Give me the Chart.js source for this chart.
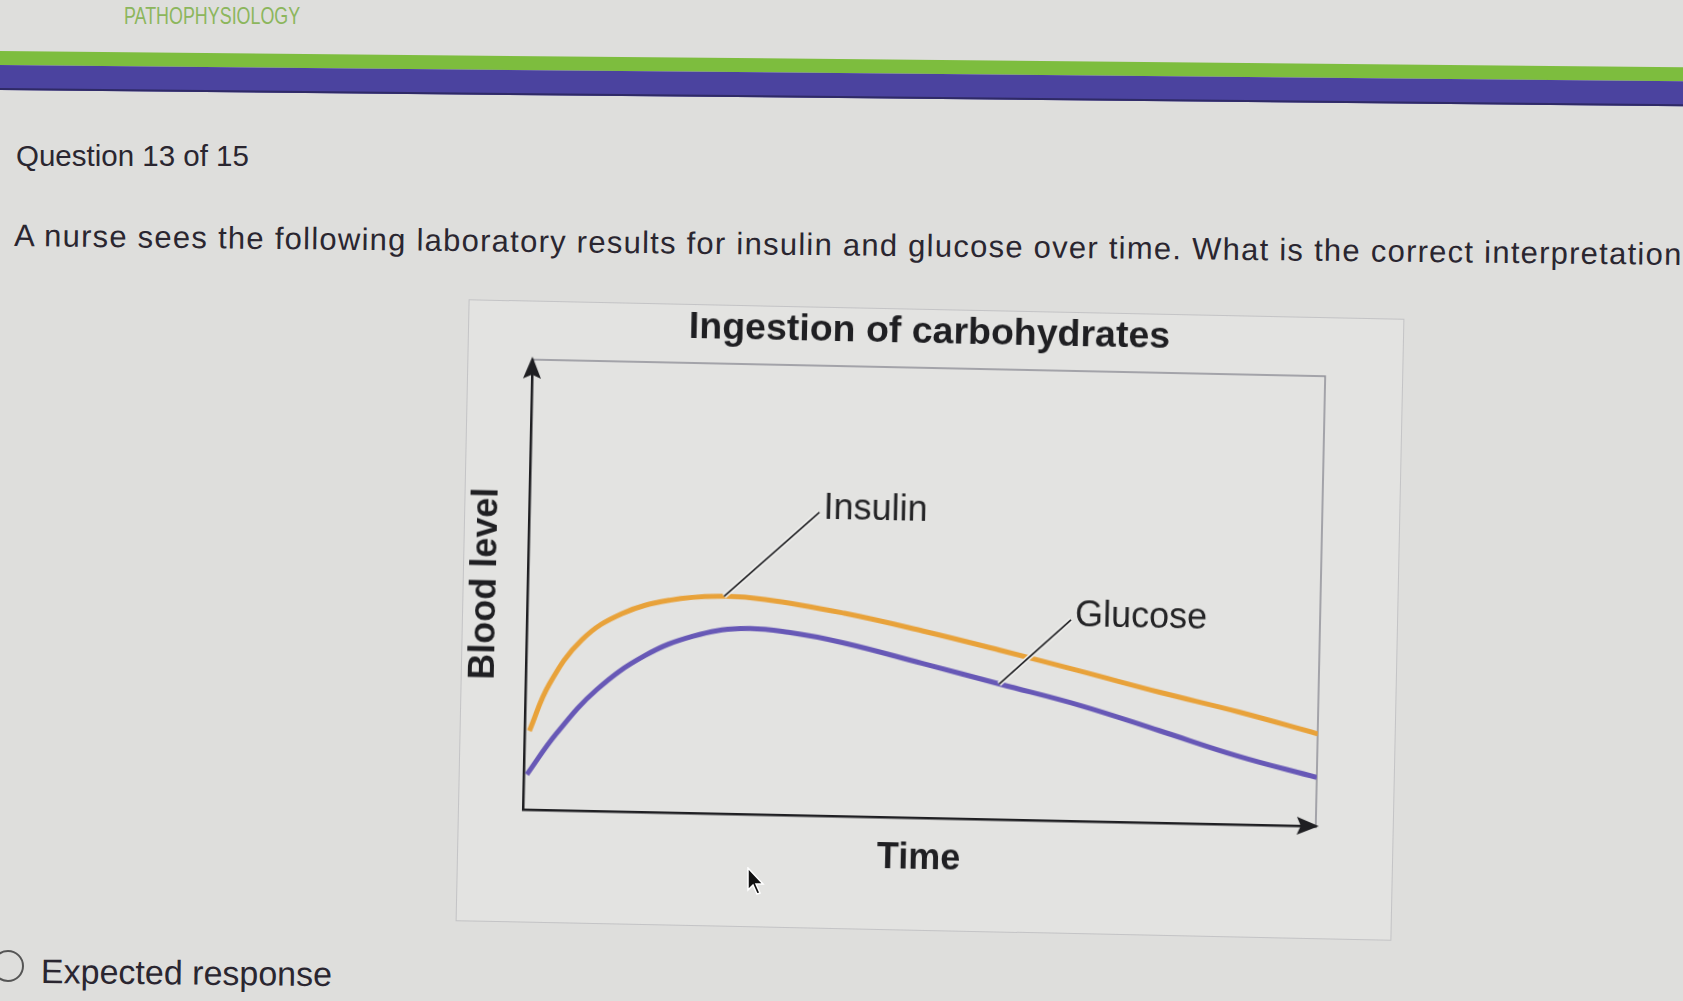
<!DOCTYPE html>
<html>
<head>
<meta charset="utf-8">
<script src="https://cdn.jsdelivr.net/npm/chart.js@4.4.1/dist/chart.umd.min.js"></script>
<style>
  html, body { margin: 0; padding: 0; }
  body {
    width: 1683px; height: 1001px; overflow: hidden; position: relative;
    background: #dededc;
    font-family: "Liberation Sans", Arial, sans-serif;
    color: #2a2630;
  }
  .abs { position: absolute; white-space: nowrap; }
  #subject { left: 124px; top: 4px; font-size: 24px; line-height: 24px; color: #8cb65c;
    transform: scaleX(0.745); transform-origin: left top; }
  #bars { left: 0; top: 51px; width: 1720px; transform: rotate(0.55deg); transform-origin: left top; }
  #bars .green { height: 14px; background: #7dbd3e; }
  #bars .blue { height: 23px; background: #4b439f; border-bottom: 2px solid #2f2a66; }
  #qnum { left: 16px; top: 141px; font-size: 29.5px; line-height: 30px; }
  #qtext { left: 14px; top: 220px; font-size: 31px; line-height: 31px; letter-spacing: 1.25px;
    transform: rotate(0.65deg); transform-origin: left center; }
  #answer { left: 41px; top: 954px; font-size: 34px; line-height: 34px; transform: rotate(0.6deg); transform-origin: left center; }
  #radio { left: -8px; top: 950px; width: 28px; height: 28px; border: 2px solid #555; border-radius: 50%; }
  #chartBox {
    position: absolute; left: 463px; top: 310px; width: 934px; height: 620px;
    outline: 1.5px solid #c4c4c6; background: #e3e3e1;
    transform: rotate(1.2deg);
  }
  #chartBox canvas { position: absolute; left: 0; top: 0; }
  #cursor { left: 747px; top: 867px; }
</style>
</head>
<body>
<div class="abs" id="subject">PATHOPHYSIOLOGY</div>
<div class="abs" id="bars"><div class="green"></div><div class="blue"></div></div>
<div class="abs" id="qnum">Question 13 of 15</div>
<div class="abs" id="qtext">A nurse sees the following laboratory results for insulin and glucose over time. What is the correct interpretation?</div>

<div id="chartBox"><canvas id="chart" width="934" height="620"></canvas></div>

<div class="abs" id="radio"></div>
<div class="abs" id="answer">Expected response</div>
<svg class="abs" id="cursor" width="20" height="30" viewBox="0 0 20 30">
  <path d="M1,1 L1,23 L6,18 L10,27 L13,26 L9,17 L16,17 Z" fill="#111" stroke="#fff" stroke-width="1.5"/>
</svg>

<script>
// curve data (time and blood level, 0-100 on both axes)
const insulinTime = [0.6, 3, 7, 12, 18, 24, 30, 40, 50, 60, 70, 80, 90, 100];
const insulinLevel = [17.5, 28, 38, 44, 47.2, 48.3, 47.8, 45.1, 41.5, 37.5, 33.3, 29.0, 25.0, 20.5];
const glucoseTime = [0.4, 4, 9, 15, 21, 27, 33, 40, 50, 60, 70, 80, 90, 100];
const glucoseLevel = [7.8, 17, 27, 34.8, 39.3, 41.2, 40.6, 38.5, 34.3, 30.0, 25.7, 20.5, 15.2, 10.8];

// callout labels: name, point on curve, end of leader line
const calloutNames = ["Insulin", "Glucose"];
const calloutFrom = [[24.8, 48.3], [59.7, 30.1]];
const calloutTo = [[36.6, 67.4], [68.6, 44.7]];

const FONT = '"Liberation Sans", Arial, sans-serif';
const INK = "#1f1f22";

function points(xs, ys) {
  return xs.map((x, i) => ({ x, y: ys[i] }));
}

// plot frame, arrowheads, callouts
const plotExtras = {
  id: "plotExtras",
  beforeDatasetsDraw(chart) {
    const { ctx, chartArea: a } = chart;
    ctx.save();
    ctx.strokeStyle = "#8e8e96";
    ctx.lineWidth = 1.5;
    ctx.beginPath();
    ctx.moveTo(a.left, a.top);
    ctx.lineTo(a.right, a.top);
    ctx.lineTo(a.right, a.bottom);
    ctx.stroke();
    ctx.restore();
  },
  afterDatasetsDraw(chart) {
    const { ctx, chartArea: a, scales } = chart;
    ctx.save();
    ctx.fillStyle = INK;
    // y arrow
    ctx.beginPath();
    ctx.moveTo(a.left, a.top - 3);
    ctx.lineTo(a.left - 9, a.top + 19);
    ctx.lineTo(a.left, a.top + 15);
    ctx.lineTo(a.left + 9, a.top + 19);
    ctx.closePath();
    ctx.fill();
    // x arrow
    ctx.beginPath();
    ctx.moveTo(a.right + 3, a.bottom);
    ctx.lineTo(a.right - 19, a.bottom - 9);
    ctx.lineTo(a.right - 15, a.bottom);
    ctx.lineTo(a.right - 19, a.bottom + 9);
    ctx.closePath();
    ctx.fill();

    // leader lines with a light halo, then the label text
    calloutNames.forEach((name, i) => {
      const x1 = scales.x.getPixelForValue(calloutFrom[i][0]);
      const y1 = scales.y.getPixelForValue(calloutFrom[i][1]);
      const x2 = scales.x.getPixelForValue(calloutTo[i][0]);
      const y2 = scales.y.getPixelForValue(calloutTo[i][1]);
      ctx.lineCap = "butt";
      ctx.strokeStyle = "#eeeeec";
      ctx.lineWidth = 5;
      ctx.beginPath();
      ctx.moveTo(x1, y1);
      ctx.lineTo(x2, y2);
      ctx.stroke();
      ctx.strokeStyle = INK;
      ctx.lineWidth = 1.6;
      ctx.beginPath();
      ctx.moveTo(x1, y1);
      ctx.lineTo(x2, y2);
      ctx.stroke();
      ctx.font = "36px " + FONT;
      ctx.textAlign = "left";
      ctx.textBaseline = "middle";
      ctx.fillStyle = "#232325";
      ctx.fillText(name, x2 + 4, y2 - 4);
    });
    ctx.restore();
  }
};

new Chart(document.getElementById("chart"), {
  type: "line",
  data: {
    datasets: [
      {
        label: "Insulin",
        data: points(insulinTime, insulinLevel),
        borderColor: "#e8a23a",
        borderWidth: 5,
        pointRadius: 0,
        tension: 0.4
      },
      {
        label: "Glucose",
        data: points(glucoseTime, glucoseLevel),
        borderColor: "#6758b6",
        borderWidth: 5,
        pointRadius: 0,
        tension: 0.4
      }
    ]
  },
  options: {
    responsive: false,
    animation: false,
    layout: { padding: { left: 0, right: 77, top: 0, bottom: 0 } },
    plugins: {
      legend: { display: false },
      tooltip: { enabled: false },
      title: {
        display: true,
        fullSize: false,
        text: "Ingestion of carbohydrates",
        color: INK,
        font: { family: FONT, size: 37.5, weight: "bold", lineHeight: 1.2 },
        padding: { top: 0, bottom: 13 }
      }
    },
    scales: {
      x: {
        type: "linear",
        min: 0,
        max: 100,
        grid: { display: false, drawTicks: false },
        ticks: { display: false },
        border: { display: true, color: INK, width: 2.5 },
        title: {
          display: true,
          text: "Time",
          color: INK,
          font: { family: FONT, size: 36, weight: "bold", lineHeight: 1.2 },
          padding: { top: 19.4, bottom: 49.4 }
        }
      },
      y: {
        min: 0,
        max: 100,
        grid: { display: false, drawTicks: false },
        ticks: { display: false },
        border: { display: true, color: INK, width: 2.5 },
        title: {
          display: true,
          text: "Blood level",
          color: INK,
          font: { family: FONT, size: 36, weight: "bold", lineHeight: 1.2 },
          padding: { top: 0, bottom: 20.8 }
        }
      }
    }
  },
  plugins: [plotExtras]
});
</script>
</body>
</html>
